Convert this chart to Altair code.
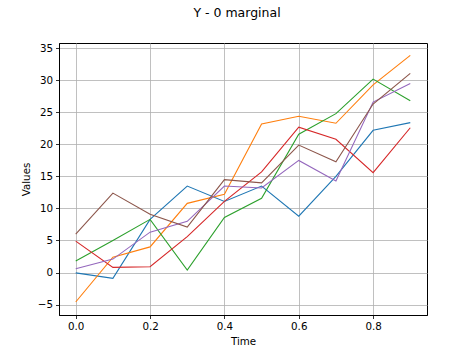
import altair as alt
import pandas as pd

time = [0.0, 0.1, 0.2, 0.3, 0.4, 0.5, 0.6, 0.7, 0.8, 0.9]
s0 = [-0.05, -0.9, 8.3, 13.5, 11.1, 13.5, 8.8, 15.0, 22.2, 23.4]   # blue
s1 = [-4.6, 2.4, 4.0, 10.8, 12.2, 23.2, 24.4, 23.3, 29.3, 33.9]    # orange
s2 = [1.8, 5.0, 8.3, 0.4, 8.6, 11.6, 21.6, 24.8, 30.2, 26.8]       # green
s3 = [4.9, 0.8, 0.9, 5.6, 11.1, 15.7, 22.7, 20.8, 15.6, 22.6]      # red
s4 = [0.6, 2.1, 6.3, 8.0, 13.5, 13.2, 17.5, 14.3, 26.6, 29.5]      # purple
s5 = [6.0, 12.4, 9.1, 7.1, 14.5, 14.0, 19.9, 17.3, 26.3, 31.1]     # brown

series = [s0, s1, s2, s3, s4, s5]
names = ["y0", "y1", "y2", "y3", "y4", "y5"]
colors = ["#1f77b4", "#ff7f0e", "#2ca02c", "#d62728", "#9467bd", "#8c564b"]

rows = []
for n, s in zip(names, series):
    for t, v in zip(time, s):
        rows.append({"Time": t, "Values": v, "series": n})
df = pd.DataFrame(rows)

chart = alt.Chart(df).mark_line(strokeWidth=1.1, clip=True).encode(
    x=alt.X("Time:Q", scale=alt.Scale(domain=[-0.045, 0.945], nice=False, zero=False),
            axis=alt.Axis(values=[0, 0.2, 0.4, 0.6, 0.8], format=".1f", title="Time",
                          grid=True, titlePadding=5)),
    y=alt.Y("Values:Q", scale=alt.Scale(domain=[-6.63, 35.83], nice=False, zero=False),
            axis=alt.Axis(values=[-5, 0, 5, 10, 15, 20, 25, 30, 35], title="Values",
                          grid=True, titlePadding=6)),
    color=alt.Color("series:N", scale=alt.Scale(domain=names, range=colors), legend=None),
).properties(
    width=368, height=272,
    title=alt.TitleParams("Y - 0 marginal", anchor="middle", dx=-6, offset=24,
                          fontSize=12.5, fontWeight="normal", font="DejaVu Sans", color="black"),
    autosize=alt.AutoSizeParams(type="none"),
    padding={"left": 59, "top": 43, "right": 47, "bottom": 40},
).configure_axis(
    labelFont="DejaVu Sans", titleFont="DejaVu Sans", labelFontSize=10.3, titleFontSize=10.3,
    titleFontWeight="normal", labelColor="black", titleColor="black",
    domainColor="black", tickColor="black", tickSize=3.5, domainWidth=1, tickWidth=0.8,
    gridColor="#b0b0b0", gridWidth=0.8, labelPadding=3,
).configure_view(stroke="black", strokeWidth=1)

chart.save("out.html", embed_options={"renderer": "svg", "actions": False})
